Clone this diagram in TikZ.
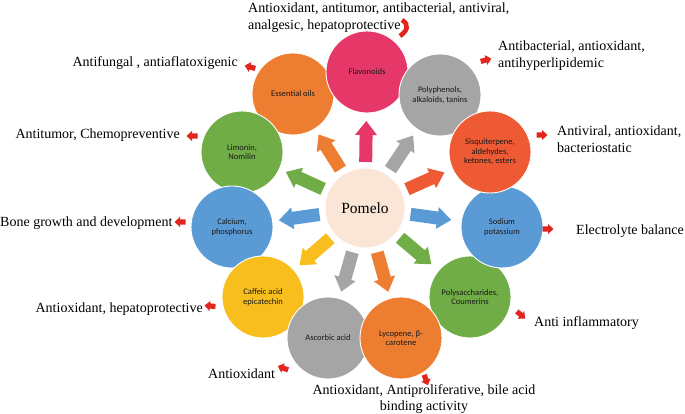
\documentclass[tikz,border=0pt]{standalone}
\usepackage{fontspec}
\setmainfont{Liberation Serif}
\newfontfamily\circfont{Carlito}
\definecolor{cpink}{RGB}{230,56,104}
\definecolor{cgray}{RGB}{165,165,165}
\definecolor{cored}{RGB}{238,90,52}
\definecolor{cblue}{RGB}{91,155,213}
\definecolor{cgreen}{RGB}{112,173,71}
\definecolor{corange}{RGB}{237,125,49}
\definecolor{cyellow}{RGB}{247,190,30}
\definecolor{cpeach}{RGB}{251,229,214}
\definecolor{redc}{RGB}{226,38,30}
\newcommand\bigarrow[2]{%
  \pgfmathanglebetweenpoints{\pgfpointanchor{pom}{center}}{\pgfpointanchor{#1}{center}}%
  \edef\myang{\pgfmathresult}%
  \fill[#2, shift={(pom.center)}, rotate=\myang] (46,-6.5) -- (73,-6.5) -- (73,-11) -- (87,0) -- (73,11) -- (73,6.5) -- (46,6.5) -- cycle;
}
\newcommand\redarrow[3]{%
  \coordinate (#1) at #2;
  \fill[redc, shift={(#1)}, rotate=#3] (-5.5,-2.6) -- (0,-2.6) -- (0,-5) -- (5.5,0) -- (0,5) -- (0,2.6) -- (-5.5,2.6) -- cycle;
}
\begin{document}
\begin{tikzpicture}[x=1pt,y=1pt,
  circ/.style={circle, draw=white, line width=0.9pt, minimum size=82pt, inner sep=0pt,
    align=center, font=\circfont\fontsize{8.5}{9.5}\selectfont, text=black!90, fill=#1},
  lab/.style={inner sep=0pt, font=\fontsize{14}{17}\selectfont}]
\useasboundingbox[fill=white] (0,0) rectangle (685,414);
% outer circles
\node[circ=corange] (ess) at (293,320) {Essential oils};
\node[circ=cgreen]  (lim) at (242,262) {Limonin,\\Nomilin};
\node[circ=cblue]   (cal) at (232,187) {Calcium,\\phosphorus};
\node[circ=cyellow] (caf) at (263,117) {Caffeic acid\\epicatechin};
\node[circ=cgray]   (asc) at (328,76)  {Ascorbic acid};
\node[circ=cgreen]  (pol) at (470,117) {Polysaccharides,\\Coumerins};
\node[circ=corange] (lyc) at (401,76)  {Lycopene, β-\\carotene};
\node[circ=cpink]   (fla) at (367,342) {Flavonoids};
\node[circ=cgray]   (phe) at (440,319) {Polyphenols,\\alkaloids, tanins};
\node[circ=cblue]   (sod) at (502,187) {Sodium\\potassium};
\node[circ=cored]   (sis) at (490,262) {Sisquiterpene,\\aldehydes,\\ketones, esters};
% center
\node[circle, fill=cpeach, draw=white, line width=0.9pt, minimum size=80pt, inner sep=0pt,
  font=\fontsize{15.5}{17}\selectfont] (pom) at (365,206) {Pomelo};
% big arrows
\bigarrow{fla}{cpink}
\bigarrow{phe}{cgray}
\bigarrow{sis}{cored}
\bigarrow{sod}{cblue}
\bigarrow{pol}{cgreen}
\bigarrow{lyc}{corange}
\bigarrow{asc}{cgray}
\bigarrow{caf}{cyellow}
\bigarrow{cal}{cblue}
\bigarrow{lim}{cgreen}
\bigarrow{ess}{corange}
% small red arrows
\redarrow{rEss}{(250,347)}{165}
\redarrow{rPhe}{(486,354)}{15}
\redarrow{rSis}{(542,279)}{0}
\redarrow{rSod}{(548,185)}{0}
\redarrow{rPol}{(521,99)}{-40}
\redarrow{rLyc}{(426,34)}{-70}
\redarrow{rAsc}{(283,46)}{160}
\redarrow{rCaf}{(210,108)}{175}
\redarrow{rCal}{(180,192)}{180}
\redarrow{rLim}{(192,278)}{180}
\coordinate (rFa) at (402,394);
\coordinate (rFb) at (400,378);
\draw[redc, line width=4.6pt] (rFa) .. controls (410,389) and (407,383) .. (rFb);
% labels
\node[lab, anchor=west, align=left] (tFla) at (248,396.5) {Antioxidant, antitumor, antibacterial, antiviral,\\analgesic, hepatoprotective};
\node[lab, anchor=west, align=left] (tPhe) at (498,358.5) {Antibacterial, antioxidant,\\antihyperlipidemic};
\node[lab, anchor=west, align=left] (tSis) at (557,274.5) {Antiviral, antioxidant,\\bacteriostatic};
\node[lab, anchor=west] (tSod) at (576,183) {Electrolyte balance};
\node[lab, anchor=west] (tPol) at (534,91) {Anti inflammatory};
\node[lab, anchor=center, align=center, font=\fontsize{14}{16}\selectfont] (tLyc) at (424,14.5) {Antioxidant, Antiproliferative, bile acid\\binding activity};
\node[lab, anchor=west] (tAsc) at (208,40) {Antioxidant};
\node[lab, anchor=east] (tCaf) at (203,105) {Antioxidant, hepatoprotective};
\node[lab, anchor=west] (tCal) at (0,191) {Bone growth and development};
\node[lab, anchor=east] (tLim) at (180,279) {Antitumor, Chemopreventive};
\node[lab, anchor=east] (tEss) at (238,351) {Antifungal , antiaflatoxigenic};
\end{tikzpicture}
\end{document}
